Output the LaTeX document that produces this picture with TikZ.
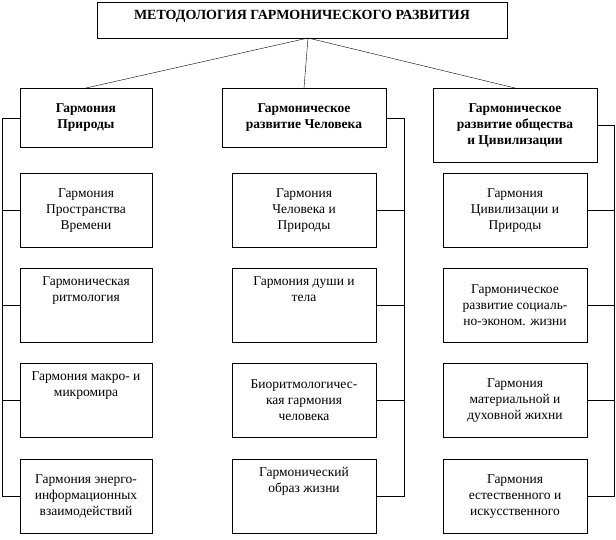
\documentclass[tikz,border=0pt]{standalone}
\usepackage{fontspec}
\setmainfont{Liberation Serif}
\usetikzlibrary{positioning}

\begin{document}
\begin{tikzpicture}[x=1pt,y=-1pt,
  box/.style={draw,align=center,font=\fontsize{13.5}{16}\selectfont,inner sep=1pt},
  head/.style={box,font=\fontsize{13.5}{16}\selectfont\bfseries}]
\useasboundingbox (0,0) rectangle (616,539);
%\draw[help lines] (0,0) grid (616,539);
\draw (97,2) rectangle (507,38);
\node[font=\fontsize{14}{16}\selectfont\bfseries,inner sep=0pt] (top) at (302,16) {МЕТОДОЛОГИЯ ГАРМОНИЧЕСКОГО РАЗВИТИЯ};
\node[head,minimum width=132,minimum height=59,anchor=north] (h1) at (86,88) {Гармония\\Природы};
\node[head,minimum width=164,minimum height=59,anchor=north] (h2) at (304,88) {Гармоническое\\развитие Человека};
\node[head,minimum width=164,minimum height=74,anchor=north] (h3) at (515,88) {Гармоническое\\развитие общества\\и Цивилизации};
% first column
\node[box,minimum width=132,minimum height=74,anchor=north] (a1) at (86,173) {Гармония\\Пространства\\Времени};
\node[box,minimum width=132,minimum height=74,anchor=north] (a2) at (86,268) {Гармоническая\\ритмология\\[16pt]};
\node[box,minimum width=132,minimum height=74,anchor=north] (a3) at (86,363) {Гармония макро- и\\микромира\\[16pt]};
\node[box,minimum width=132,minimum height=74,anchor=north] (a4) at (86,459) {Гармония энерго-\\информационных\\взаимодействий};
% second column
\node[box,minimum width=144,minimum height=74,anchor=north] (b1) at (304,173) {Гармония\\Человека и\\Природы};
\node[box,minimum width=144,minimum height=74,anchor=north] (b2) at (304,268) {Гармония души и\\тела\\[16pt]};
\node[box,minimum width=144,minimum height=74,anchor=north] (b3) at (304,363) {Биоритмологичес-\\кая гармония\\человека};
\node[box,minimum width=144,minimum height=74,anchor=north] (b4) at (304,459) {Гармонический\\образ жизни\\[16pt]};
% third column
\node[box,minimum width=144,minimum height=74,anchor=north] (c1) at (515,173) {Гармония\\Цивилизации и\\Природы};
\node[box,minimum width=144,minimum height=74,anchor=north] (c2) at (515,268) {Гармоническое\\развитие социаль-\\но-эконом. жизни};
\node[box,minimum width=144,minimum height=74,anchor=north] (c3) at (515,363) {Гармония\\материальной и\\духовной жихни};
\node[box,minimum width=144,minimum height=74,anchor=north] (c4) at (515,459) {Гармония\\естественного и\\искусственного};
% links
\coordinate (t0) at (308,38);
\draw (t0) -- (h1.north);
\draw (t0) -- (h2.north);
\draw (t0) -- (h3.north);
\draw (h1.west) -- ++(-18,0) |- (a4.west);
\foreach \n in {a1,a2,a3} \draw (\n.west) -- ++(-18,0);
\draw (h2.east) -- ++(18,0) |- (b4.east);
\foreach \n in {b1,b2,b3} \draw (\n.east) -- ++(28,0);
\draw (h3.east) -- ++(17,0) |- (c4.east);
\foreach \n in {c1,c2,c3} \draw (\n.east) -- ++(27,0);
\end{tikzpicture}
\end{document}
